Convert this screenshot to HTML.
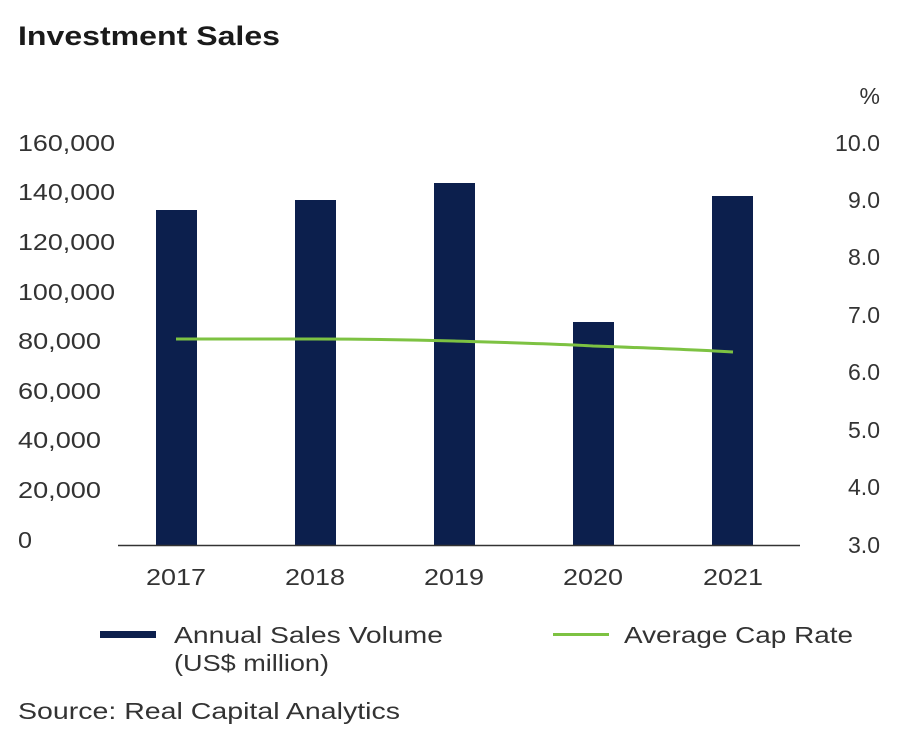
<!DOCTYPE html>
<html><head><meta charset="utf-8"><style>
body{margin:0;background:#fff;width:900px;height:736px;overflow:hidden;font-family:"Liberation Sans",sans-serif;color:#222;}
</style></head><body>
<svg width="900" height="736" xmlns="http://www.w3.org/2000/svg" font-family="Liberation Sans, sans-serif">
<text x="18" y="45" font-size="27" font-weight="bold" fill="#1a1a1a" textLength="262" lengthAdjust="spacingAndGlyphs">Investment Sales</text>
<text x="880" y="104" font-size="23" fill="#333" text-anchor="end">%</text>
<g font-size="23" fill="#333" lengthAdjust="spacingAndGlyphs">
<text x="18" y="151" textLength="97" lengthAdjust="spacingAndGlyphs">160,000</text>
<text x="18" y="200" textLength="97" lengthAdjust="spacingAndGlyphs">140,000</text>
<text x="18" y="250" textLength="97" lengthAdjust="spacingAndGlyphs">120,000</text>
<text x="18" y="300" textLength="97" lengthAdjust="spacingAndGlyphs">100,000</text>
<text x="18" y="349" textLength="83" lengthAdjust="spacingAndGlyphs">80,000</text>
<text x="18" y="399" textLength="83" lengthAdjust="spacingAndGlyphs">60,000</text>
<text x="18" y="448" textLength="83" lengthAdjust="spacingAndGlyphs">40,000</text>
<text x="18" y="498" textLength="83" lengthAdjust="spacingAndGlyphs">20,000</text>
<text x="18" y="548" textLength="14" lengthAdjust="spacingAndGlyphs">0</text>
</g>
<g font-size="23" fill="#333">
<text x="835" y="151" textLength="45" lengthAdjust="spacingAndGlyphs">10.0</text>
<text x="848" y="208" textLength="32" lengthAdjust="spacingAndGlyphs">9.0</text>
<text x="848" y="265" textLength="32" lengthAdjust="spacingAndGlyphs">8.0</text>
<text x="848" y="323" textLength="32" lengthAdjust="spacingAndGlyphs">7.0</text>
<text x="848" y="380" textLength="32" lengthAdjust="spacingAndGlyphs">6.0</text>
<text x="848" y="438" textLength="32" lengthAdjust="spacingAndGlyphs">5.0</text>
<text x="848" y="495" textLength="32" lengthAdjust="spacingAndGlyphs">4.0</text>
<text x="848" y="553" textLength="32" lengthAdjust="spacingAndGlyphs">3.0</text>
</g>
<g fill="#0c1f4d">
<rect x="156" y="210" width="41" height="335"/>
<rect x="295" y="200" width="41" height="345"/>
<rect x="434" y="183" width="41" height="362"/>
<rect x="573" y="322" width="41" height="223"/>
<rect x="712" y="196" width="41" height="349"/>
</g>
<line x1="118" y1="545.5" x2="800" y2="545.5" stroke="#333" stroke-width="1.5"/>
<path d="M176,339 L315,339 C380,339 420,340 454,341 C520,343 560,344 593,346 C650,348 700,350 733,352" fill="none" stroke="#7dc242" stroke-width="3"/>
<g font-size="23" fill="#333">
<text x="146" y="585" textLength="60" lengthAdjust="spacingAndGlyphs">2017</text>
<text x="285" y="585" textLength="60" lengthAdjust="spacingAndGlyphs">2018</text>
<text x="424" y="585" textLength="60" lengthAdjust="spacingAndGlyphs">2019</text>
<text x="563" y="585" textLength="60" lengthAdjust="spacingAndGlyphs">2020</text>
<text x="703" y="585" textLength="60" lengthAdjust="spacingAndGlyphs">2021</text>
</g>
<rect x="100" y="631" width="56" height="7" fill="#0c1f4d"/>
<text x="174" y="643" font-size="23" fill="#333" textLength="269" lengthAdjust="spacingAndGlyphs">Annual Sales Volume</text>
<text x="174" y="671" font-size="23" fill="#333" textLength="155" lengthAdjust="spacingAndGlyphs">(US$ million)</text>
<line x1="553" y1="634.5" x2="609" y2="634.5" stroke="#7dc242" stroke-width="3"/>
<text x="624" y="643" font-size="23" fill="#333" textLength="229" lengthAdjust="spacingAndGlyphs">Average Cap Rate</text>
<text x="18" y="719" font-size="23" fill="#333" textLength="382" lengthAdjust="spacingAndGlyphs">Source: Real Capital Analytics</text>
</svg>
</body></html>
